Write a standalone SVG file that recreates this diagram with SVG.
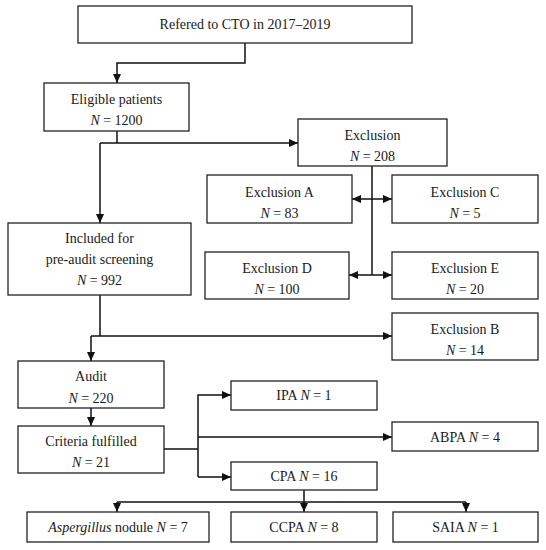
<svg xmlns="http://www.w3.org/2000/svg" width="546" height="550" viewBox="0 0 546 550">
<style>
.box{fill:#fff;stroke:#222;stroke-width:1.3}
.t{font-family:"Liberation Serif","Times New Roman",serif;font-size:14px;fill:#1a1a1a;text-anchor:middle}
.i{font-style:italic}
.c{fill:none;stroke:#111;stroke-width:1.5}
</style>
<defs>
<marker id="ah" markerUnits="userSpaceOnUse" markerWidth="10" markerHeight="8" refX="9" refY="4" orient="auto-start-reverse">
<path d="M0,0 L9,4 L0,8 Z" fill="#111"/>
</marker>
</defs>
<rect width="546" height="550" fill="#fff"/>

<g id="connectors">
<path class="c" d="M245 43 V63 H117 V83" marker-end="url(#ah)"/>
<path class="c" d="M117 131 V143"/>
<path class="c" d="M100 143 H298" marker-end="url(#ah)"/>
<path class="c" d="M100 143 V223" marker-end="url(#ah)"/>
<path class="c" d="M372 166 V275"/>
<path class="c" d="M352 199 H392" marker-start="url(#ah)" marker-end="url(#ah)"/>
<path class="c" d="M349 275 H392" marker-start="url(#ah)" marker-end="url(#ah)"/>
<path class="c" d="M100 295 V336"/>
<path class="c" d="M91 336 H392" marker-end="url(#ah)"/>
<path class="c" d="M91 336 V361" marker-end="url(#ah)"/>
<path class="c" d="M91 408 V426" marker-end="url(#ah)"/>
<path class="c" d="M164 449 H198"/>
<path class="c" d="M198 477 V395 H231" marker-end="url(#ah)"/>
<path class="c" d="M198 437 H392" marker-end="url(#ah)"/>
<path class="c" d="M198 477 H231" marker-end="url(#ah)"/>
<path class="c" d="M304 490 V502"/>
<path class="c" d="M117 502 H466"/>
<path class="c" d="M117 502 V512" marker-end="url(#ah)"/>
<path class="c" d="M304 502 V512" marker-end="url(#ah)"/>
<path class="c" d="M466 502 V512" marker-end="url(#ah)"/>
</g>

<g id="referred">
<rect class="box" x="78" y="6" width="334" height="37"/>
<text class="t" x="245" y="29">Refered to CTO in 2017–2019</text>
</g>
<g id="eligible">
<rect class="box" x="44" y="83" width="145" height="48"/>
<text class="t" x="116.5" y="104">Eligible patients</text>
<text class="t" x="116.5" y="125"><tspan class="i">N</tspan> = 1200</text>
</g>
<g id="exclusion">
<rect class="box" x="298" y="119" width="149" height="47"/>
<text class="t" x="372.5" y="140">Exclusion</text>
<text class="t" x="372.5" y="161"><tspan class="i">N</tspan> = 208</text>
</g>
<g id="exclA">
<rect class="box" x="207" y="175" width="145" height="48"/>
<text class="t" x="279.5" y="197">Exclusion A</text>
<text class="t" x="279.5" y="218"><tspan class="i">N</tspan> = 83</text>
</g>
<g id="exclC">
<rect class="box" x="392" y="175" width="146" height="48"/>
<text class="t" x="465" y="197">Exclusion C</text>
<text class="t" x="465" y="218"><tspan class="i">N</tspan> = 5</text>
</g>
<g id="included">
<rect class="box" x="8" y="223" width="183" height="72"/>
<text class="t" x="99.5" y="243">Included for</text>
<text class="t" x="99.5" y="264">pre-audit screening</text>
<text class="t" x="99.5" y="285"><tspan class="i">N</tspan> = 992</text>
</g>
<g id="exclD">
<rect class="box" x="205" y="252" width="144" height="47"/>
<text class="t" x="277" y="273">Exclusion D</text>
<text class="t" x="277" y="294"><tspan class="i">N</tspan> = 100</text>
</g>
<g id="exclE">
<rect class="box" x="392" y="252" width="146" height="47"/>
<text class="t" x="465" y="273">Exclusion E</text>
<text class="t" x="465" y="294"><tspan class="i">N</tspan> = 20</text>
</g>
<g id="exclB">
<rect class="box" x="392" y="313" width="146" height="47"/>
<text class="t" x="465" y="334">Exclusion B</text>
<text class="t" x="465" y="355"><tspan class="i">N</tspan> = 14</text>
</g>
<g id="audit">
<rect class="box" x="18" y="361" width="146" height="47"/>
<text class="t" x="91" y="381">Audit</text>
<text class="t" x="91" y="403"><tspan class="i">N</tspan> = 220</text>
</g>
<g id="criteria">
<rect class="box" x="18" y="426" width="146" height="47"/>
<text class="t" x="91" y="446">Criteria fulfilled</text>
<text class="t" x="91" y="467"><tspan class="i">N</tspan> = 21</text>
</g>
<g id="ipa">
<rect class="box" x="231" y="381" width="146" height="29"/>
<text class="t" x="304" y="400">IPA <tspan class="i">N</tspan> = 1</text>
</g>
<g id="abpa">
<rect class="box" x="392" y="422" width="146" height="29"/>
<text class="t" x="465" y="442">ABPA <tspan class="i">N</tspan> = 4</text>
</g>
<g id="cpa">
<rect class="box" x="231" y="462" width="146" height="28"/>
<text class="t" x="304" y="481">CPA <tspan class="i">N</tspan> = 16</text>
</g>
<g id="nodule">
<rect class="box" x="27" y="512" width="182" height="30"/>
<text class="t" x="118" y="532"><tspan class="i">Aspergillus</tspan> nodule <tspan class="i">N</tspan> = 7</text>
</g>
<g id="ccpa">
<rect class="box" x="231" y="512" width="146" height="30"/>
<text class="t" x="304" y="532">CCPA <tspan class="i">N</tspan> = 8</text>
</g>
<g id="saia">
<rect class="box" x="393" y="512" width="145" height="30"/>
<text class="t" x="465.5" y="532">SAIA <tspan class="i">N</tspan> = 1</text>
</g>
</svg>
